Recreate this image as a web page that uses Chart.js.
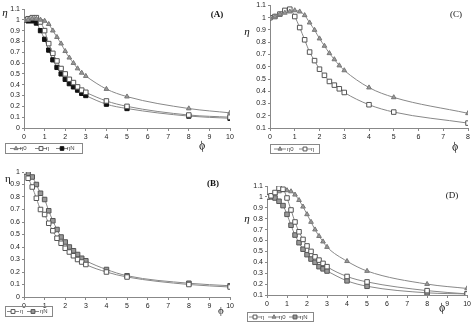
<!DOCTYPE html>
<html>
<head>
<meta charset="utf-8">
<script src="https://cdn.jsdelivr.net/npm/chart.js@4/dist/chart.umd.min.js"></script>
<style>
body { margin: 0; background: #fff; }
canvas { position: absolute; }
</style>
</head>
<body>
<canvas id="pA" width="237" height="162" style="left:0;top:0"></canvas>
<canvas id="pC" width="237" height="162" style="left:237px;top:0"></canvas>
<canvas id="pB" width="237" height="162" style="left:0;top:162px"></canvas>
<canvas id="pD" width="237" height="162" style="left:237px;top:162px"></canvas>
<script>
// phi values (x axis)
const phi = [0, 0.2, 0.4, 0.6, 0.8, 1, 1.2, 1.4, 1.6, 1.8, 2, 2.2, 2.4, 2.6, 2.8, 3, 4, 5, 8, 10];
const phiC = [0, 0.2, 0.4, 0.6, 0.8, 1, 1.2, 1.4, 1.6, 1.8, 2, 2.2, 2.4, 2.6, 2.8, 3, 4, 5, 8];

// panel A
const aEta0 = [1.0, 1.0, 1.01, 1.01, 1.0, 0.99, 0.96, 0.90, 0.84, 0.78, 0.71, 0.65, 0.60, 0.55, 0.51, 0.48, 0.36, 0.29, 0.18, 0.14];
const aEta  = [1.0, 1.01, 1.02, 1.02, 0.98, 0.90, 0.78, 0.69, 0.62, 0.55, 0.50, 0.45, 0.42, 0.38, 0.35, 0.33, 0.25, 0.20, 0.12, 0.10];
const aEtaN = [1.0, 0.99, 0.99, 0.97, 0.90, 0.82, 0.72, 0.63, 0.56, 0.50, 0.45, 0.41, 0.38, 0.35, 0.32, 0.30, 0.22, 0.18, 0.11, 0.09];
// panel B
const bEta  = [1.0, 0.95, 0.88, 0.79, 0.70, 0.66, 0.59, 0.53, 0.47, 0.43, 0.39, 0.36, 0.33, 0.30, 0.28, 0.26, 0.20, 0.16, 0.10, 0.08];
const bEtaN = [1.0, 0.99, 0.96, 0.90, 0.83, 0.78, 0.69, 0.61, 0.54, 0.48, 0.44, 0.40, 0.37, 0.34, 0.31, 0.29, 0.22, 0.17, 0.11, 0.09];
// panel C
const cEta0 = [1.0, 1.01, 1.03, 1.04, 1.05, 1.06, 1.05, 1.02, 0.96, 0.90, 0.83, 0.77, 0.71, 0.66, 0.61, 0.57, 0.43, 0.35, 0.22];
const cEta  = [1.0, 1.01, 1.03, 1.06, 1.07, 1.01, 0.92, 0.82, 0.72, 0.65, 0.58, 0.53, 0.48, 0.45, 0.42, 0.39, 0.29, 0.23, 0.14];
// panel D
const dEta  = [1.0, 1.01, 1.04, 1.08, 1.07, 0.99, 0.88, 0.77, 0.68, 0.61, 0.55, 0.50, 0.45, 0.42, 0.39, 0.36, 0.27, 0.22, 0.14, 0.11];
const dEta0 = [1.0, 1.01, 1.03, 1.05, 1.06, 1.06, 1.05, 1.02, 0.97, 0.91, 0.84, 0.77, 0.70, 0.64, 0.59, 0.54, 0.41, 0.32, 0.20, 0.16];
const dEtaN = [1.0, 1.0, 0.99, 0.96, 0.92, 0.84, 0.74, 0.65, 0.58, 0.52, 0.47, 0.43, 0.40, 0.36, 0.34, 0.32, 0.23, 0.18, 0.12, 0.11];

const styles = {
    eta0: { pointStyle: 'triangle', pointRadius: 2.7, pointBackgroundColor: '#999', pointBorderColor: '#777' },
    eta:  { pointStyle: 'rect', pointRadius: 3.2, pointBackgroundColor: '#fff', pointBorderColor: '#555' },
    etaNblack: { pointStyle: 'rect', pointRadius: 3, pointBackgroundColor: '#111', pointBorderColor: '#111' },
    etaNgray: { pointStyle: 'rect', pointRadius: 3.2, pointBackgroundColor: '#999', pointBorderColor: '#555' }
};

function serie(label, xs, ys, st) {
    return Object.assign({
        label: label,
        data: xs.map((x, i) => ({ x: x, y: ys[i] })),
        borderColor: '#888',
        borderWidth: 1,
        pointBorderWidth: 1,
        cubicInterpolationMode: 'monotone',
        fill: false
    }, styles[st]);
}

const decoPlugin = {
    id: 'deco',
    afterDraw(chart) {
        const o = chart.options.plugins.deco;
        const ctx = chart.ctx;
        const a = chart.chartArea;
        ctx.save();
        if (o.box) {
            ctx.strokeStyle = '#999';
            ctx.lineWidth = 1;
            ctx.strokeRect(Math.round(a.left) + 0.5, Math.round(a.top) + 0.5, Math.round(a.right - a.left), Math.round(a.bottom - a.top));
        }
        ctx.fillStyle = '#111';
        ctx.textAlign = 'center';
        ctx.textBaseline = 'middle';
        ctx.font = o.titleFont;
        ctx.fillText(o.title, o.titleX, o.titleY);
        ctx.font = o.etaFont;
        ctx.fillText('η', o.etaX, o.etaY);
        ctx.save();
        ctx.translate(o.phiX, o.phiY);
        ctx.rotate(o.phiRot);
        ctx.font = o.phiFont;
        ctx.fillText('ϕ', 0, 0);
        ctx.restore();

        // legend box
        const lg = o.legend;
        ctx.strokeStyle = '#888';
        ctx.lineWidth = 1;
        ctx.strokeRect(lg.x + 0.5, lg.y + 0.5, lg.w, lg.h);
        const cy = lg.y + lg.h / 2 + 0.5;
        ctx.font = '6px "Liberation Sans"';
        ctx.textAlign = 'left';
        lg.items.forEach((it, i) => {
            const ds = chart.data.datasets[i];
            ctx.strokeStyle = '#888';
            ctx.beginPath();
            ctx.moveTo(it.m - 6, cy);
            ctx.lineTo(it.m + 6, cy);
            ctx.stroke();
            ctx.fillStyle = ds.pointBackgroundColor;
            ctx.strokeStyle = ds.pointBorderColor;
            Chart.helpers.drawPoint(ctx, { pointStyle: ds.pointStyle, radius: ds.pointRadius * 0.85, rotation: 0, borderWidth: 1 }, it.m, cy);
            ctx.fillStyle = '#444';
            ctx.fillText(ds.label, it.t, cy);
        });
        ctx.restore();
    }
};

function makeChart(id, datasets, xMax, yMin, yMax, L, deco) {
    const tickFont = { family: 'Liberation Sans', size: 7, lineHeight: 1 };
    return new Chart(document.getElementById(id), {
        type: 'line',
        data: { datasets: datasets },
        plugins: [decoPlugin],
        options: {
            responsive: false,
            animation: false,
            layout: { padding: { left: 0, top: L.top, right: L.right, bottom: L.bottom } },
            plugins: { legend: { display: false }, tooltip: { enabled: false }, deco: deco },
            scales: {
                x: {
                    type: 'linear', min: 0, max: xMax,
                    afterFit: s => { s.height = 12; },
                    ticks: { stepSize: 1, autoSkip: false, font: tickFont, color: '#222', padding: 3, maxRotation: 0 },
                    grid: { drawOnChartArea: false, drawTicks: true, tickLength: 3, color: '#888' },
                    border: { display: true, color: '#888' }
                },
                y: {
                    type: 'linear', min: yMin, max: yMax,
                    afterFit: s => { s.width = L.left; },
                    ticks: { stepSize: 0.1, autoSkip: false, font: tickFont, color: '#222', padding: 2,
                        callback: v => String(Math.round(v * 10) / 10) },
                    grid: { drawOnChartArea: false, drawTicks: true, tickLength: 2, color: '#888' },
                    border: { display: true, color: '#888' }
                }
            }
        }
    });
}

document.addEventListener('DOMContentLoaded', function() {
    makeChart('pA', [
        serie('η0', phi, aEta0, 'eta0'),
        serie('η', phi, aEta, 'eta'),
        serie('ηN', phi, aEtaN, 'etaNblack')
    ], 10, 0, 1.1, { left: 24, top: 9, right: 7, bottom: 22 }, {
        title: '(A)', titleX: 217, titleY: 15, titleFont: 'bold 9px "Liberation Serif"',
        etaX: 5, etaY: 13, etaFont: 'italic 11px "Liberation Serif"',
        phiX: 202, phiY: 146, phiRot: -0.3, phiFont: 'italic 12px "Liberation Serif"',
        legend: { x: 5, y: 143, w: 77, h: 10, items: [{ m: 16, t: 20 }, { m: 41, t: 46 }, { m: 62, t: 67 }] }
    });
    makeChart('pC', [
        serie('η0', phiC, cEta0, 'eta0'),
        serie('η', phiC, cEta, 'eta')
    ], 8, 0.1, 1.1, { left: 33, top: 4, right: 6, bottom: 22 }, {
        title: '(C)', titleX: 219, titleY: 15, titleFont: '9px "Liberation Serif"',
        etaX: 10, etaY: 32, etaFont: 'italic 11px "Liberation Serif"',
        phiX: 218, phiY: 147, phiRot: -0.3, phiFont: 'italic 12px "Liberation Serif"',
        legend: { x: 33, y: 144, w: 49, h: 9, items: [{ m: 43, t: 50 }, { m: 68, t: 74 }] }
    });
    makeChart('pB', [
        serie('η', phi, bEta, 'eta'),
        serie('ηN', phi, bEtaN, 'etaNgray')
    ], 10, 0, 1, { left: 24, top: 10, right: 6, bottom: 15 }, {
        title: '(B)', titleX: 213, titleY: 22, titleFont: 'bold 9px "Liberation Serif"',
        etaX: 8, etaY: 17, etaFont: '11px "Liberation Serif"',
        phiX: 221, phiY: 149, phiRot: 0, phiFont: '11px "Liberation Serif"',
        legend: { x: 5, y: 144, w: 47, h: 10, items: [{ m: 13, t: 20 }, { m: 33, t: 40 }] }
    });
    makeChart('pD', [
        serie('η', phi, dEta, 'eta'),
        serie('η0', phi, dEta0, 'eta0'),
        serie('ηN', phi, dEtaN, 'etaNgray')
    ], 10, 0.1, 1.1, { left: 30, top: 24, right: 4, bottom: 17 }, {
        title: '(D)', titleX: 215, titleY: 34, titleFont: '9px "Liberation Serif"',
        etaX: 10, etaY: 57, etaFont: 'italic 11px "Liberation Serif"',
        phiX: 205, phiY: 146, phiRot: -0.3, phiFont: 'italic 12px "Liberation Serif"',
        legend: { x: 10, y: 150, w: 66, h: 9, items: [{ m: 18, t: 24 }, { m: 37, t: 42 }, { m: 58, t: 63 }] }
    });
});
</script>
</body>
</html>
